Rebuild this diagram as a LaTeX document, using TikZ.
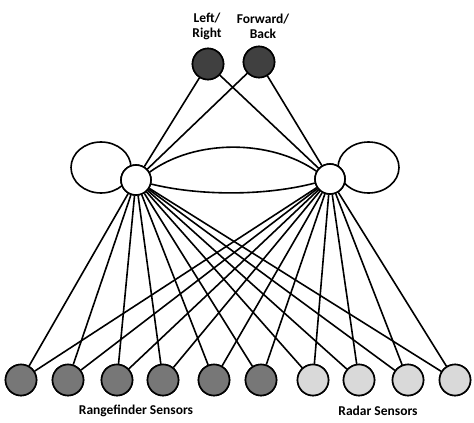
\documentclass[tikz,border=0pt]{standalone}
\usepackage{fontspec}
\setmainfont{Carlito}
\begin{document}
\begin{tikzpicture}[x=1pt,y=-1pt,
  neuron/.style={circle,draw=black,line width=1.6pt,minimum size=31pt,inner sep=0pt},
  outn/.style={neuron,fill=outgray},
  hidn/.style={neuron,fill=white,minimum size=30pt},
  rngn/.style={neuron,fill=rnggray},
  radn/.style={neuron,fill=radgray},
  conn/.style={line width=1.6pt,draw=black},
  lbl/.style={font=\bfseries\fontsize{13.5}{15}\selectfont,align=center,inner sep=0pt}]
\definecolor{outgray}{HTML}{404040}
\definecolor{rnggray}{HTML}{777777}
\definecolor{radgray}{HTML}{D9D9D9}
\useasboundingbox (0,0) rectangle (474,423);
% self loops
\draw[conn] (101,167.5) ellipse [x radius=30,y radius=25.5];
\draw[conn] (368.5,167.5) ellipse [x radius=30.5,y radius=25.5];
% node positions
\coordinate (Lc) at (136,180);
\coordinate (Rc) at (330,179);
\node[outn] (o1) at (208,64) {};
\node[outn] (o2) at (259,62) {};
\foreach \i/\x in {1/21,2/68,3/117,4/163,5/214,6/261}{
  \node[rngn] (s\i) at (\x,380) {};
}
\foreach \i/\x in {7/313,8/359,9/408,10/455}{
  \node[radn] (s\i) at (\x,380) {};
}
\node[hidn] (h1) at (Lc) {};
\node[hidn] (h2) at (Rc) {};
% connectors
\foreach \o in {o1,o2}{
  \draw[conn] (\o) -- (h1);
  \draw[conn] (\o) -- (h2);
}
\foreach \i in {1,...,10}{
  \draw[conn] (s\i) -- (h1);
  \draw[conn] (s\i) -- (h2);
}
\draw[conn] (h1.30) .. controls (195,139) and (270,139) .. (h2.150);
\draw[conn] (h1.-15) .. controls (200,196) and (265,196) .. (h2.195);
% redraw nodes on top of connectors
\node[outn] at (o1) {};
\node[outn] at (o2) {};
\foreach \i/\x in {1/21,2/68,3/117,4/163,5/214,6/261}{
  \node[rngn] at (\x,380) {};
}
\foreach \i/\x in {7/313,8/359,9/408,10/455}{
  \node[radn] at (\x,380) {};
}
\node[hidn] at (Lc) {};
\node[hidn] at (Rc) {};
% labels
\node[lbl] (t1) at (207,26) {Left/\\Right};
\node[lbl] (t2) at (263,26) {Forward/\\Back};
\node[lbl] (t3) at (136,411) {Rangefinder Sensors};
\node[lbl] (t4) at (378,411) {Radar Sensors};
\end{tikzpicture}
\end{document}
